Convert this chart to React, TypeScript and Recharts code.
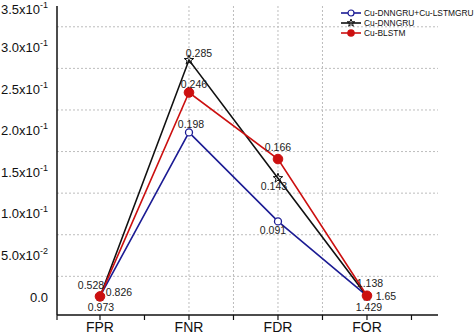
import { LineChart, Line, XAxis, YAxis, CartesianGrid, LabelList } from "recharts";

const categories = ["FPR", "FNR", "FDR", "FOR"];
const seriesNames = ["Cu-DNNGRU+Cu-LSTMGRU", "Cu-DNNGRU", "Cu-BLSTM"];

// plotted values (FPR / FOR points sit on the zero line)
const hybridValues = [0.000973, 0.198, 0.091, 0.001429];
const dnngruValues = [0.000528, 0.285, 0.143, 0.001138];
const blstmValues = [0.000826, 0.246, 0.166, 0.00165];

// printed labels next to each point
const hybridLabels = ["0.973", "0.198", "0.091", "1.429"];
const dnngruLabels = ["0.528", "0.285", "0.143", "1.138"];
const blstmLabels = ["0.826", "0.246", "0.166", "1.65"];

const yTicks = [0, 0.05, 0.1, 0.15, 0.2, 0.25, 0.3, 0.35];
const gridY = [0.025, 0.05, 0.075, 0.1, 0.125, 0.15, 0.175, 0.2, 0.225, 0.25, 0.275, 0.3, 0.325];

const data = categories.map((c, i) => ({
  x: i,
  name: c,
  hybrid: hybridValues[i],
  dnngru: dnngruValues[i],
  blstm: blstmValues[i],
  hybridLabel: hybridLabels[i],
  dnngruLabel: dnngruLabels[i],
  blstmLabel: blstmLabels[i],
}));

const BLUE = "#1c1c94";
const BLACK = "#111111";
const RED = "#cc1010";
const FONT = "'Liberation Sans', Arial, sans-serif";

const X_MIN = -0.483;
const X_MAX = 3.798;

// label offsets from the point, per series, per category
const offsets: Record<string, [number, number][]> = {
  hybrid: [[1, 11], [2, -8], [-5, 9], [2, 11]],
  dnngru: [[-9, -12], [10, -7], [-4, 8], [3, -13]],
  blstm: [[19, -4], [5, -9], [0, -12], [19, 0]],
};

const makeLabel = (key: string) => (props: any) => {
  const { x, y, value, index } = props;
  const [dx, dy] = offsets[key][index];
  return (
    <text
      x={x + dx}
      y={y + dy}
      textAnchor="middle"
      dominantBaseline="central"
      fontSize={10.5}
      fontFamily={FONT}
      fill="#222"
    >
      {value}
    </text>
  );
};

const CircleDot = (props: any) => {
  const { cx, cy } = props;
  return <circle cx={cx} cy={cy} r={3.5} fill="#fff" stroke={BLUE} strokeWidth={1.3} />;
};

const starPath = (cx: number, cy: number, ro: number, ri: number) => {
  const pts: string[] = [];
  for (let i = 0; i < 10; i++) {
    const r = i % 2 === 0 ? ro : ri;
    const a = -Math.PI / 2 + (i * Math.PI) / 5;
    pts.push(`${(cx + r * Math.cos(a)).toFixed(2)},${(cy + r * Math.sin(a)).toFixed(2)}`);
  }
  return "M" + pts.join("L") + "Z";
};

const StarDot = (props: any) => {
  const { cx, cy } = props;
  return <path d={starPath(cx, cy, 5, 2)} fill="none" stroke={BLACK} strokeWidth={1} />;
};

const FilledDot = (props: any) => {
  const { cx, cy } = props;
  return <circle cx={cx} cy={cy} r={4.8} fill={RED} stroke={RED} />;
};

const YTick = (props: any) => {
  const { x, y, payload } = props;
  const v = payload.value as number;
  let main = "0.0";
  let exp = "";
  if (v > 0 && v < 0.1) {
    main = (v * 100).toFixed(1) + "x10";
    exp = "-2";
  } else if (v >= 0.1) {
    main = (v * 10).toFixed(1) + "x10";
    exp = "-1";
  }
  return (
    <text x={x} y={y} textAnchor="end" fontSize={13} fontFamily={FONT} fill="#111" dy={4.5}>
      {main}
      {exp && (
        <tspan fontSize={9} dy={-6}>
          {exp}
        </tspan>
      )}
    </text>
  );
};

const XTick = (props: any) => {
  const { x, y, payload } = props;
  const v = payload.value as number;
  if (!Number.isInteger(v)) return null;
  return (
    <text x={x} y={y} dy="0.74em" textAnchor="middle" fontSize={14} fontFamily={FONT} fill="#111">
      {categories[v]}
    </text>
  );
};

const legendItems = [
  { name: seriesNames[0], color: BLUE, marker: "circle" },
  { name: seriesNames[1], color: BLACK, marker: "star" },
  { name: seriesNames[2], color: RED, marker: "filled" },
];

const Legend = () => (
  <div
    style={{
      position: "absolute",
      left: 341,
      top: 8,
      width: 133,
      fontFamily: FONT,
      fontSize: 8.4,
      color: "#111",
      whiteSpace: "nowrap",
    }}
  >
    {legendItems.map((it) => (
      <div key={it.name} style={{ display: "flex", alignItems: "center", height: 10 }}>
        <svg width={22} height={10} style={{ flex: "none" }}>
          <line x1={0} y1={5} x2={20} y2={5} stroke={it.color} strokeWidth={1.6} />
          {it.marker === "circle" && <circle cx={10} cy={5} r={3} fill="#fff" stroke={it.color} strokeWidth={1.2} />}
          {it.marker === "star" && <path d={starPath(10, 5, 4, 1.6)} fill="none" stroke={it.color} strokeWidth={1} />}
          {it.marker === "filled" && <circle cx={10} cy={5} r={3.8} fill={it.color} />}
        </svg>
        <span style={{ marginLeft: 1, lineHeight: "10px" }}>{it.name}</span>
      </div>
    ))}
  </div>
);

export default function App() {
  return (
    <div style={{ position: "relative", width: 474, height: 334, background: "#fff", overflow: "hidden" }}>
      <style>{`body{margin:0}`}</style>
      <LineChart width={474} height={334} data={data} margin={{ top: 6, right: 36, bottom: 0, left: 0 }}>
        <CartesianGrid
          stroke="#bdbdbd"
          strokeDasharray="2 2"
          horizontalValues={gridY}
          verticalValues={[1, 1.5, 2, 2.5]}
        />
        <XAxis
          dataKey="x"
          type="number"
          domain={[X_MIN, X_MAX]}
          ticks={[X_MIN, 0, 0.5, 1, 1.5, 2, 2.5, 3, 3.5]}
          allowDataOverflow
          height={19}
          tickSize={5}
          tickMargin={2}
          tick={<XTick />}
          axisLine={{ stroke: "#111", strokeWidth: 1.5 }}
          tickLine={{ stroke: "#111", strokeWidth: 1.2 }}
        />
        <YAxis
          type="number"
          domain={[-0.0215, 0.35]}
          ticks={yTicks}
          allowDataOverflow
          width={57}
          tickSize={0}
          tickMargin={9}
          tick={<YTick />}
          axisLine={{ stroke: "#111", strokeWidth: 1.5 }}
          tickLine={false}
        />
        <Line dataKey="hybrid" type="linear" stroke={BLUE} strokeWidth={1.6} dot={<CircleDot />} isAnimationActive={false}>
          <LabelList dataKey="hybridLabel" content={makeLabel("hybrid")} />
        </Line>
        <Line dataKey="dnngru" type="linear" stroke={BLACK} strokeWidth={1.6} dot={<StarDot />} isAnimationActive={false}>
          <LabelList dataKey="dnngruLabel" content={makeLabel("dnngru")} />
        </Line>
        <Line dataKey="blstm" type="linear" stroke={RED} strokeWidth={1.6} dot={<FilledDot />} isAnimationActive={false}>
          <LabelList dataKey="blstmLabel" content={makeLabel("blstm")} />
        </Line>
      </LineChart>
      <Legend />
    </div>
  );
}
